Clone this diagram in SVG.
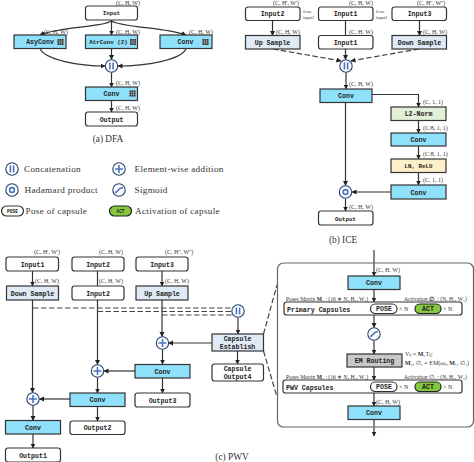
<svg xmlns="http://www.w3.org/2000/svg" width="474" height="462" viewBox="0 0 474 462">
<style>
.w{fill:#fff;stroke:#333;stroke-width:1.2}
.c{fill:#8fe0fa;stroke:#333;stroke-width:1.2}
.l{fill:#dfeaf6;stroke:#333;stroke-width:1.2}
.g{fill:#e4efd8;stroke:#333;stroke-width:1.2}
.y{fill:#fdefc8;stroke:#333;stroke-width:1.2}
.r{fill:#c8c8c8;stroke:#333;stroke-width:1.2}
.a{fill:#84c83f;stroke:#222;stroke-width:1.2}
text{fill:#222}
.m{font-family:"Liberation Mono",monospace;font-weight:700;font-size:6.6px;text-anchor:middle}
.m2{font-family:"Liberation Mono",monospace;font-weight:700;font-size:6.6px}
.s{font-size:5.8px}
.d{font-family:"Liberation Serif",serif;font-size:6px;fill:#333}
.p{font-family:"Liberation Serif",serif;font-size:5.6px;fill:#333}
.cap{font-family:"Liberation Serif",serif;font-size:9.3px;text-anchor:middle;fill:#333}
.leg{font-family:"Liberation Serif",serif;font-size:9.2px;letter-spacing:.3px;fill:#333}
.f{fill:none;stroke:#333;stroke-width:1.2}
.k{fill:none;stroke:#333;stroke-width:1.2;marker-end:url(#ah)}
.ds{fill:none;stroke:#444;stroke-width:1.2;stroke-dasharray:5.500 2.500}
.ring{fill:#fff;stroke:#24406f;stroke-width:1.1}
.b{fill:none;stroke:#4a74c0;stroke-width:1.6}
.grid{fill:#333}
.gl{stroke:#ddd;stroke-width:.4}
</style>
<defs>
<marker id="ah" markerWidth="6" markerHeight="6" refX="4.500" refY="2.500" orient="auto" markerUnits="userSpaceOnUse"><path d="M0 0L5 2.500L0 5Z" fill="#222"/></marker>
<g id="cat"><circle r="6.200" class="ring"/><path d="M-1.600-3.500V3.500M1.600-3.500V3.500" class="b"/></g>
<g id="plus"><circle r="6.200" class="ring"/><path d="M-4 0H4M0-4V4" class="b"/></g>
<g id="had"><circle r="6.200" class="ring"/><circle r="2.400" fill="none" stroke="#4a74c0" stroke-width="1.600"/></g>
<g id="sig"><circle r="6.200" class="ring"/><path d="M-4 2.500C-1 2.500-1-2.500 4-2.500" class="b"/></g>
<g id="gr"><rect x="-3" y="-3" width="6" height="6" class="grid"/><path d="M-1 -3V3M1 -3V3M-3 -1H3M-3 1H3" class="gl"/></g>
</defs>

<g id="connectors">
<path class="k" d="M111.500 20V35"/>
<path class="k" d="M111.500 21C100 28 60 26 40 35"/>
<path class="k" d="M111.500 21C123 28 165 27 186 35"/>
<path class="k" d="M111.500 48.500V59.500"/>
<path class="k" d="M40 48.500C45 60 80 66 105 66"/>
<path class="k" d="M186 48.500C182 60 145 66 118 66"/>
<path class="k" d="M111.500 72.500V87"/>
<path class="k" d="M111.500 100V112"/>
<path class="k" d="M272.500 20.500V35.500"/>
<path class="f" d="M345.500 20.500V35.500"/>
<path class="k" d="M419.500 20.500V35.500"/>
<path class="k" d="M345.500 49V59.500"/>
<path class="ds" d="M273 49L339 60.500"/>
<path class="k" d="M337 60.200L341 61"/>
<path class="ds" d="M419 49L353 60.500"/>
<path class="k" d="M355 60.200L351 61"/>
<path class="k" d="M346 72.500V89"/>
<path class="k" d="M372 94.500H418.500V107"/>
<path class="k" d="M418.500 120.500V133"/>
<path class="k" d="M418.500 146V159"/>
<path class="k" d="M418.500 172.500V185"/>
<path class="k" d="M391 192H352"/>
<path class="k" d="M345.500 102.500V185.500"/>
<path class="k" d="M345.500 198.500V211"/>
<path class="k" d="M32.500 271V286"/>
<path class="f" d="M97.500 271V286"/>
<path class="k" d="M162 271V286"/>
<path class="k" d="M32.500 300V392.500"/>
<path class="k" d="M97.500 300V364.500"/>
<path class="k" d="M162 300V336.500"/>
<path class="ds" d="M33 308H232"/>
<path class="ds" d="M97.500 311.500H231.500"/>
<path class="ds" d="M162 315H232"/>
<path class="k" d="M238 317.500V334"/>
<path class="k" d="M212 343H168.500"/>
<path class="k" d="M237.500 351V364"/>
<path class="k" d="M162.500 349.500V364"/>
<path class="k" d="M162.500 378V393"/>
<path class="k" d="M135 371H104"/>
<path class="k" d="M97.500 377.500V393"/>
<path class="k" d="M97.500 406.500V421"/>
<path class="k" d="M70 399H39.500"/>
<path class="k" d="M33 405.500V420.500"/>
<path class="k" d="M33 434V448"/>
<path class="ds" d="M263.500 334L277 285"/>
<path class="ds" d="M263.500 351L277 397"/>
<path class="k" d="M374 250V276"/>
<path class="k" d="M374 289.500V302"/>
<path class="k" d="M374 315V327.500"/>
<path class="k" d="M374 340.500V354"/>
<path class="k" d="M374 367V380"/>
<path class="k" d="M374 393V406"/>
<path class="k" d="M374 419.500V436"/>
</g>

<g id="dfa">
<g id="dfa-input"><rect class="w" x="85.500" y="6" width="52" height="14" rx="2.500"/><text class="m s" x="111.500" y="15">Input</text></g>
<g id="dfa-asy"><rect class="c" x="14" y="35" width="52" height="13.500"/><text class="m" x="40" y="44">AsyConv</text><use href="#gr" x="60.500" y="42"/></g>
<g id="dfa-atr"><rect class="c" x="85.500" y="35" width="52" height="13.500"/><text class="m s" x="108.500" y="44">AtrConv (2)</text><use href="#gr" x="133" y="42"/></g>
<g id="dfa-conv1"><rect class="c" x="160" y="35" width="52" height="13.500"/><text class="m" x="185.500" y="44">Conv</text><use href="#gr" x="205.500" y="42"/></g>
<g id="dfa-cat"><use href="#cat" x="111.500" y="66"/></g>
<g id="dfa-conv2"><rect class="c" x="85.500" y="87" width="52" height="13.500"/><text class="m" x="111.500" y="96">Conv</text><use href="#gr" x="132.500" y="93.500"/></g>
<g id="dfa-output"><rect class="w" x="85.500" y="112" width="52" height="14" rx="2.500"/><text class="m" x="111.500" y="121.500">Output</text></g>
<text class="d" x="116" y="5">(C, H, W)</text>
<text class="d" x="44" y="33.500">(C, H, W)</text>
<text class="d" x="116" y="33.500">(C, H, W)</text>
<text class="d" x="189" y="33.500">(C, H, W)</text>
<text class="d" x="116" y="84.500">(C, H, W)</text>
<text class="d" x="116" y="110">(C, H, W)</text>
<text class="cap" x="108" y="142">(a) DFA</text>
</g>

<g id="ice">
<g id="ice-in2"><rect class="w" x="245.500" y="7" width="54.500" height="13.500" rx="2.500"/><text class="m" x="272.500" y="16">Input2</text></g>
<g id="ice-in1"><rect class="w" x="318.500" y="7" width="54.500" height="13.500" rx="2.500"/><text class="m" x="345.500" y="16">Input1</text></g>
<g id="ice-in3"><rect class="w" x="392" y="7" width="54.500" height="13.500" rx="2.500"/><text class="m" x="419.500" y="16">Input3</text></g>
<g id="ice-up"><rect class="l" x="245.500" y="35.500" width="54.500" height="13.500"/><text class="m" x="272.500" y="44.500">Up Sample</text></g>
<g id="ice-in1b"><rect class="w" x="318.500" y="35.500" width="54.500" height="13.500" rx="2.500"/><text class="m" x="345.500" y="44.500">Input1</text></g>
<g id="ice-down"><rect class="l" x="392" y="35.500" width="54.500" height="13.500"/><text class="m" x="419.500" y="44.500">Down Sample</text></g>
<g id="ice-cat"><use href="#cat" x="346" y="66"/></g>
<g id="ice-conv"><rect class="c" x="320" y="89" width="52" height="13.500"/><text class="m" x="346" y="98">Conv</text></g>
<g id="ice-l2"><rect class="g" x="391" y="107" width="55" height="13.500"/><text class="m" x="418.500" y="116">L2-Norm</text></g>
<g id="ice-conv2"><rect class="c" x="391" y="133" width="55" height="13"/><text class="m" x="418.500" y="141.800">Conv</text></g>
<g id="ice-ln"><rect class="y" x="391" y="159" width="55" height="13.500"/><text class="m s" x="418.500" y="168">LN, ReLU</text></g>
<g id="ice-conv3"><rect class="c" x="391" y="185" width="55" height="14"/><text class="m" x="418.500" y="194.500">Conv</text></g>
<g id="ice-had"><use href="#had" x="345.500" y="192"/></g>
<g id="ice-output"><rect class="w" x="318.500" y="211" width="54.500" height="14" rx="2.500"/><text class="m s" x="345.500" y="220.500">Output</text></g>
<text class="d" x="273" y="5">(C, H', W')</text>
<text class="d" x="349" y="5">(C, H, W)</text>
<text class="d" x="417" y="5">(C, H'', W'')</text>
<text class="d" x="276" y="33.500">(C, H, W)</text>
<text class="d" x="349" y="33.500">(C, H, W)</text>
<text class="d" x="423" y="33.500">(C, H, W)</text>
<text class="d" x="349" y="85.500">(C, H, W)</text>
<text class="d" x="423" y="103.500">(C, 1, 1)</text>
<text class="d" x="423" y="129.500">(C/8, 1, 1)</text>
<text class="d" x="423" y="155.500">(C/8, 1, 1)</text>
<text class="d" x="423" y="182">(C, 1, 1)</text>
<text class="d" x="349" y="209">(C, H, W)</text>
<text class="d" x="303" y="12.500" style="font-size:4.400px">if no</text>
<text class="d" x="303" y="18.500" style="font-size:4.400px">input2</text>
<text class="d" x="376" y="12.500" style="font-size:4.400px">if no</text>
<text class="d" x="376" y="18.500" style="font-size:4.400px">input3</text>
<text class="cap" x="343" y="243">(b) ICE</text>
</g>

<g id="legend">
<use href="#cat" x="12" y="169"/><text class="leg" x="24" y="172">Concatenation</text>
<use href="#plus" x="119" y="169"/><text class="leg" x="134.500" y="172">Element-wise addition</text>
<use href="#had" x="12" y="190"/><text class="leg" x="24.500" y="193">Hadamard product</text>
<use href="#sig" x="119" y="190"/><text class="leg" x="134.500" y="193">Sigmoid</text>
<rect class="w" x="1.500" y="206" width="22" height="10" rx="5"/><text class="m" x="12.500" y="213" style="font-size:4.500px">POSE</text>
<text class="leg" x="25.500" y="214">Pose of capsule</text>
<rect class="a" x="109.500" y="206" width="22" height="10" rx="5"/><text class="m" x="120.500" y="213" style="font-size:4.500px">ACT</text>
<text class="leg" x="135" y="214">Activation of capsule</text>
</g>

<g id="pwv">
<g id="pwv-in1"><rect class="w" x="6" y="257" width="52.500" height="14" rx="2.500"/><text class="m" x="32.500" y="266.500">Input1</text></g>
<g id="pwv-in2"><rect class="w" x="72" y="257" width="52" height="14" rx="2.500"/><text class="m" x="98" y="266.500">Input2</text></g>
<g id="pwv-in3"><rect class="w" x="136" y="257" width="52" height="14" rx="2.500"/><text class="m" x="162" y="266.500">Input3</text></g>
<g id="pwv-down"><rect class="l" x="6.500" y="286" width="52" height="14"/><text class="m" x="32.500" y="295.500">Down Sample</text></g>
<g id="pwv-in2b"><rect class="w" x="72" y="286" width="52" height="14" rx="2.500"/><text class="m" x="98" y="295.500">Input2</text></g>
<g id="pwv-up"><rect class="l" x="136" y="286" width="52" height="14"/><text class="m" x="162" y="295.500">Up Sample</text></g>
<g id="pwv-cat"><use href="#cat" x="238" y="311"/></g>
<g id="pwv-est"><rect class="l" x="212" y="334" width="51.500" height="17"/><text class="m" x="237.500" y="341">Capsule</text><text class="m" x="237.500" y="349">Establish</text></g>
<g id="pwv-out4"><rect class="w" x="212" y="364" width="51.500" height="17" rx="2.500"/><text class="m" x="237.500" y="371">Capsule</text><text class="m" x="237.500" y="379">Output4</text></g>
<g id="pwv-p1"><use href="#plus" x="162.500" y="343"/></g>
<g id="pwv-conv3"><rect class="c" x="135" y="364.500" width="55" height="13.500"/><text class="m" x="162.500" y="373.500">Conv</text></g>
<g id="pwv-out3"><rect class="w" x="135" y="393" width="55" height="14" rx="2.500"/><text class="m" x="162.500" y="402.500">Output3</text></g>
<g id="pwv-p2"><use href="#plus" x="97.500" y="371"/></g>
<g id="pwv-conv2"><rect class="c" x="70" y="393" width="55" height="13.500"/><text class="m" x="97.500" y="402">Conv</text></g>
<g id="pwv-out2"><rect class="w" x="70" y="421" width="55" height="13.500" rx="2.500"/><text class="m" x="97.500" y="430">Output2</text></g>
<g id="pwv-p3"><use href="#plus" x="33" y="399"/></g>
<g id="pwv-conv1"><rect class="c" x="5.500" y="420.500" width="55" height="13.500"/><text class="m" x="33" y="429.500">Conv</text></g>
<g id="pwv-out1"><rect class="w" x="5.500" y="448" width="55" height="14" rx="2.500"/><text class="m" x="33" y="457.500">Output1</text></g>
<text class="d" x="34" y="254">(C, H', W')</text>
<text class="d" x="99" y="254">(C, H, W)</text>
<text class="d" x="165" y="254">(C, H'', W'')</text>
<text class="d" x="35" y="283">(C, H, W)</text>
<text class="d" x="99" y="283">(C, H, W)</text>
<text class="d" x="165" y="283">(C, H, W)</text>
<text class="cap" x="232" y="460">(c) PWV</text>
</g>

<g id="panel">
<rect x="277.500" y="263" width="196" height="164" rx="6" fill="none" stroke="#666" stroke-width="1.200"/>
<g id="panel-conv1"><rect class="c" x="348" y="276" width="52" height="13.500"/><text class="m" x="374" y="285">Conv</text></g>
<g id="panel-primary"><rect class="w" x="284" y="302" width="178" height="13" rx="2.500"/><text class="m2" x="287" y="311.500">Primary Capsules</text></g>
<rect class="w" x="370.500" y="304" width="26.500" height="9.500" rx="4.700"/><text class="m" x="384" y="311">POSE</text>
<text class="d" x="399" y="311">× N</text>
<rect class="a" x="415" y="304" width="26" height="9.500" rx="4.700"/><text class="m" x="428" y="311">ACT</text>
<text class="d" x="443" y="311">× N</text>
<text class="p" x="286" y="300.500">Poses Matrix <tspan font-weight="700">M</tspan>₁ : (16 ∗ N, H₁, W₁)</text>
<text class="p" x="404" y="300.500">Activation <tspan font-weight="700">∅</tspan>₁ : (N, H₁, W₁)</text>
<text class="d" x="376" y="272">(C, H, W)</text>
<g id="panel-sig"><use href="#sig" x="374" y="334"/></g>
<g id="panel-em"><rect class="r" x="347" y="354" width="55" height="13"/><text class="m" x="374.500" y="362.500">EM Routing</text></g>
<text class="d" x="405" y="356">V<tspan font-size="3.500">ij</tspan> = <tspan font-weight="700">M</tspan>₁T<tspan font-size="3.500">ij</tspan>;</text>
<text class="d" x="405" y="365"><tspan font-weight="700">M</tspan>₂, ∅₂ = EM(ω<tspan font-size="3.500">ij</tspan>, <tspan font-weight="700">M</tspan>₁, ∅₁)</text>
<text class="p" x="286" y="378.500">Poses Matrix <tspan font-weight="700">M</tspan>₂ : (16 ∗ N, H₂, W₂)</text>
<text class="p" x="404" y="378.500">Activation ∅₂ : (N, H₂, W₂)</text>
<g id="panel-pwv"><rect class="w" x="283" y="380" width="179" height="13" rx="2.500"/><text class="m2" x="286" y="389.500">PWV Capsules</text></g>
<rect class="w" x="370.500" y="382" width="26.500" height="9.500" rx="4.700"/><text class="m" x="384" y="389">POSE</text>
<text class="d" x="399" y="389">× N</text>
<rect class="a" x="415" y="382" width="26" height="9.500" rx="4.700"/><text class="m" x="428" y="389">ACT</text>
<text class="d" x="443" y="389">× N</text>
<text class="d" x="376" y="404">(C, H, W)</text>
<g id="panel-conv2"><rect class="c" x="348" y="406" width="52" height="13.500"/><text class="m" x="374" y="415">Conv</text></g>
</g>
</svg>
